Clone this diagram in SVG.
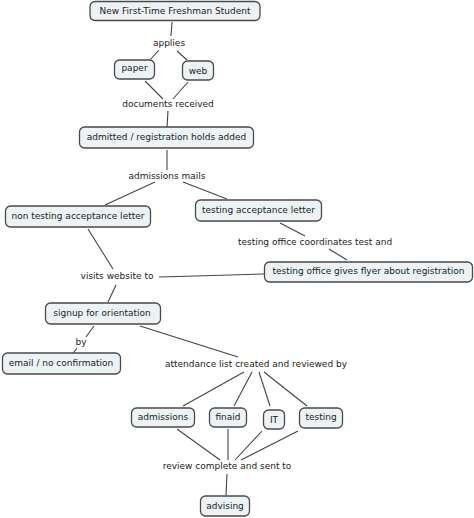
<svg xmlns="http://www.w3.org/2000/svg" width="474" height="518" viewBox="0 0 474 518">
<style>
.n rect{fill:#edf2f5;stroke:#4a4a4a;stroke-width:1.3}
text{font-family:"DejaVu Sans",Verdana,sans-serif;font-size:9px;fill:#222;text-anchor:middle;dominant-baseline:central}
#c line{stroke:#444;stroke-width:1.1}
</style>
<rect width="474" height="518" fill="#fff"/>
<g id="c">
<line x1="172" y1="22" x2="171" y2="36"/>
<line x1="159" y1="50" x2="150" y2="60"/>
<line x1="177" y1="51" x2="187" y2="60"/>
<line x1="145" y1="81" x2="163" y2="99"/>
<line x1="188" y1="82" x2="173" y2="99"/>
<line x1="168" y1="111" x2="167" y2="127"/>
<line x1="167" y1="150" x2="167" y2="170"/>
<line x1="155" y1="182" x2="105" y2="205"/>
<line x1="183" y1="182" x2="227" y2="199"/>
<line x1="280" y1="223" x2="305" y2="236"/>
<line x1="329" y1="249" x2="347" y2="260"/>
<line x1="264" y1="274" x2="159" y2="277"/>
<line x1="88" y1="229" x2="113" y2="269"/>
<line x1="116" y1="285" x2="108" y2="302"/>
<line x1="94" y1="326" x2="86" y2="337"/>
<line x1="77" y1="348" x2="72" y2="355"/>
<line x1="140" y1="326" x2="238" y2="357"/>
<line x1="244" y1="372" x2="183" y2="406"/>
<line x1="252" y1="372" x2="234" y2="406"/>
<line x1="259" y1="372" x2="270" y2="406"/>
<line x1="264" y1="372" x2="307" y2="406"/>
<line x1="177" y1="429" x2="220" y2="460"/>
<line x1="228" y1="429" x2="228" y2="460"/>
<line x1="262" y1="431" x2="235" y2="460"/>
<line x1="298" y1="431" x2="241" y2="460"/>
<line x1="227" y1="474" x2="226" y2="495"/>
</g>
<g id="labels">
<text x="169" y="43">applies</text>
<text x="168" y="104">documents received</text>
<text x="167" y="176">admissions mails</text>
<text x="315" y="242">testing office coordinates test and</text>
<text x="117" y="276">visits website to</text>
<text x="81" y="342">by</text>
<text x="256" y="364">attendance list created and reviewed by</text>
<text x="227" y="466">review complete and sent to</text>
</g>
<g id="n1" class="n"><rect x="90" y="1.5" width="170" height="19" rx="5"/><text x="175" y="11">New First-Time Freshman Student</text></g>
<g id="n2" class="n"><rect x="114.5" y="60" width="40" height="19" rx="5"/><text x="134.5" y="68">paper</text></g>
<g id="n3" class="n"><rect x="182.5" y="61" width="31" height="19" rx="5"/><text x="198" y="71">web</text></g>
<g id="n4" class="n"><rect x="79.5" y="127" width="174" height="21" rx="5"/><text x="166.5" y="137">admitted / registration holds added</text></g>
<g id="n5" class="n"><rect x="5.5" y="206" width="145" height="21" rx="5"/><text x="78" y="216">non testing acceptance letter</text></g>
<g id="n6" class="n"><rect x="195.5" y="200" width="126" height="21" rx="5"/><text x="258.5" y="210">testing acceptance letter</text></g>
<g id="n7" class="n"><rect x="264.5" y="262" width="208" height="20" rx="5"/><text x="368.5" y="271">testing office gives flyer about registration</text></g>
<g id="n8" class="n"><rect x="45.5" y="303" width="115" height="21" rx="5"/><text x="102" y="313">signup for orientation</text></g>
<g id="n9" class="n"><rect x="2.5" y="353" width="118" height="21" rx="5"/><text x="61" y="363">email / no confirmation</text></g>
<g id="n10" class="n"><rect x="131.5" y="408" width="63" height="19" rx="5"/><text x="163" y="417">admissions</text></g>
<g id="n11" class="n"><rect x="209.5" y="408" width="37" height="19" rx="5"/><text x="228" y="417">finaid</text></g>
<g id="n12" class="n"><rect x="263.5" y="410" width="21" height="19" rx="5"/><text x="274" y="419.5">IT</text></g>
<g id="n13" class="n"><rect x="299.5" y="408" width="43" height="20" rx="5"/><text x="321" y="417">testing</text></g>
<g id="n14" class="n"><rect x="200.5" y="496" width="49" height="20" rx="5"/><text x="225" y="505.5">advising</text></g>
</svg>
